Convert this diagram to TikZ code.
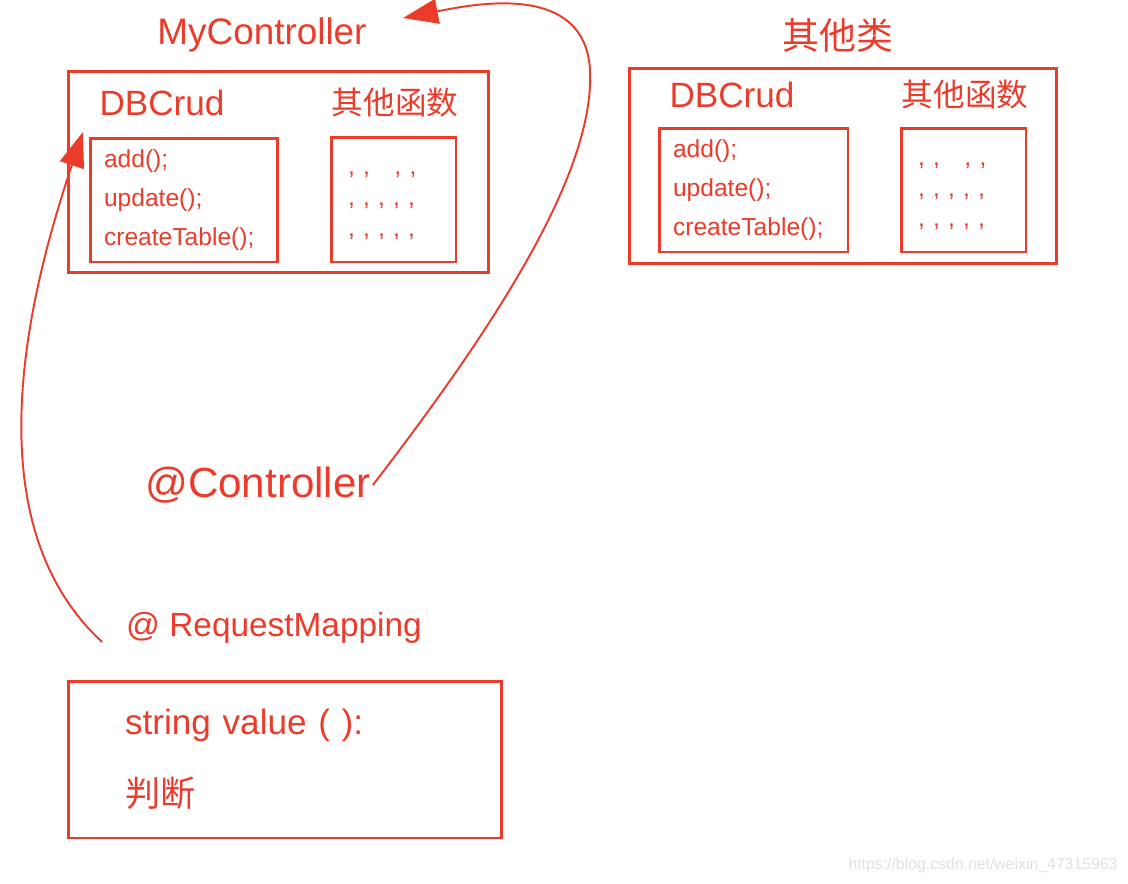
\documentclass[tikz,border=0pt]{standalone}
\usepackage{fontspec}
\setmainfont{Liberation Sans}
\newfontfamily\cjk{Noto Sans CJK SC}
\usetikzlibrary{arrows.meta}
\definecolor{pen}{RGB}{235,59,42}
\newcommand{\ticks}[1]{\raisebox{-7pt}{\begin{tabular}{@{}l@{}}#1\end{tabular}}}

\begin{document}
\begin{tikzpicture}[x=0.02cm, y=-0.02cm,
  box/.style={draw=pen, line width=1.7pt, inner sep=0pt},
  tag/.style={text=pen, inner sep=1pt},
  fnbox/.style={box, text=pen, font=\fontsize{14}{22}\selectfont, align=left,
    inner xsep=0.28cm, text width=3.2cm, minimum height=2.48cm},
  dotbox/.style={box, text=pen, font=\fontsize{14}{17.5}\selectfont, align=left,
    inner xsep=0.34cm, text width=1.82cm, minimum height=2.48cm},
  link/.style={pen, line width=1.1pt, -{Triangle[length=0.7cm,width=0.5cm]}},
  wmark/.style={text=black!12, font=\fontsize{9}{10}\selectfont}]

\useasboundingbox (0,0) rectangle (1128,883);

\node[tag, font=\fontsize{21}{24}\selectfont] (myctrl) at (262,35) {MyController};
\node[box, minimum width=8.42cm, minimum height=4.04cm] (myctrlbox) at (278.5,172) {};
\node[tag, font=\fontsize{20}{24}\selectfont] (crudA) at (162,103) {DBCrud};
\node[fnbox] (crudAbox) at (184,200) {add();\\update();\\createTable();};
\node[tag, font=\fontsize{18}{22}\selectfont\cjk] (othersA) at (395,103) {其他函数};
\node[dotbox, minimum height=2.5cm] (othersAbox) at (393.5,199.5)
  {\ticks{, ,\quad, ,\\, , , , ,\\, , , , ,}};

\node[tag, font=\fontsize{21}{24}\selectfont\cjk] (other) at (838,35) {其他类};
\node[box, minimum width=8.56cm, minimum height=3.92cm] (otherbox) at (843,166) {};
\node[tag, font=\fontsize{20}{24}\selectfont] (crudB) at (732,95) {DBCrud};
\node[fnbox, text width=3.22cm] (crudBbox) at (753.5,190) {add();\\update();\\createTable();};
\node[tag, font=\fontsize{18}{22}\selectfont\cjk] (othersB) at (965,95) {其他函数};
\node[dotbox] (othersBbox) at (963.5,190)
  {\ticks{, ,\quad, ,\\, , , , ,\\, , , , ,}};

\node[tag, font=\fontsize{24}{28}\selectfont] (ctrl) at (258,485) {@Controller};
\node[tag, font=\fontsize{19}{22}\selectfont] (mapping) at (274,628) {@ RequestMapping};
\node[box, text=pen, font=\fontsize{20}{41}\selectfont, align=left, inner xsep=1.14cm,
  text width=6.4cm, minimum height=3.14cm] (valuebox) at (285,759.5)
  {string value ( ):\\{\cjk 判断}};

\coordinate (tipA) at (403,18);
\coordinate (tipB) at (83,132);
\draw[link] (ctrl.east) .. controls (500,320) and (595,170) .. (590,70)
  .. controls (585,-20) and (470,5) .. (tipA);
\draw[link] ([shift={(-22,14)}]mapping.west) .. controls (-30,520) and (30,290) .. (tipB);

\node[wmark] (url) at (983,865) {https://blog.csdn.net/weixin\_47315963};

\end{tikzpicture}
\end{document}
